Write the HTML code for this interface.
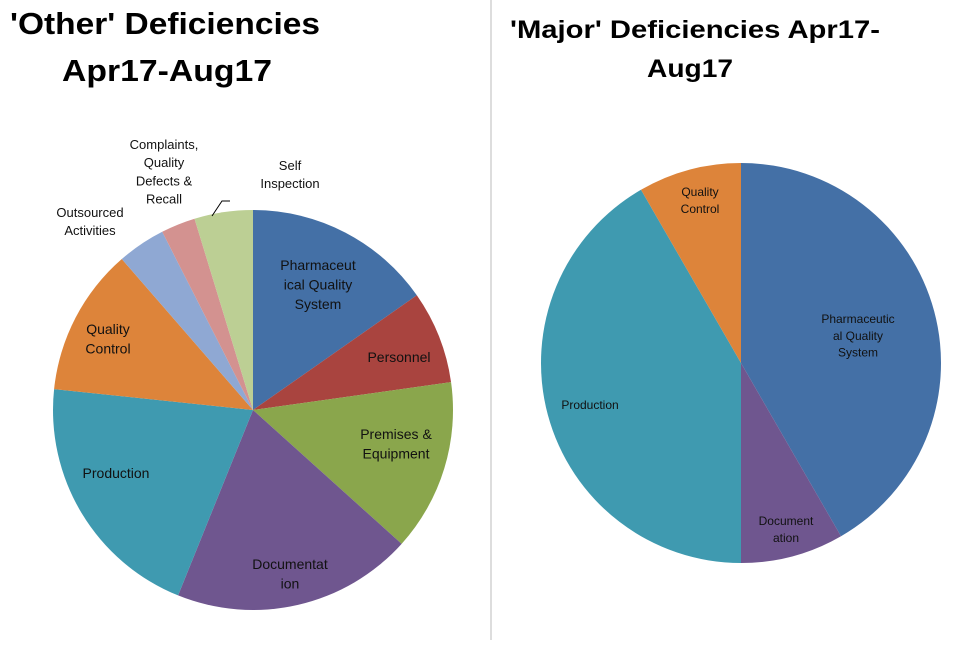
<!DOCTYPE html>
<html><head><meta charset="utf-8"><style>
body{margin:0;background:#fff;width:960px;height:640px;overflow:hidden;font-family:"Liberation Sans",sans-serif}
</style></head><body>
<svg width="960" height="640" xmlns="http://www.w3.org/2000/svg">
<line x1="491" y1="0" x2="491" y2="640" stroke="#bbb" stroke-width="1"/>
<text x="10" y="34" font-size="31" font-weight="bold" fill="#000" textLength="310" lengthAdjust="spacingAndGlyphs">'Other' Deficiencies</text>
<text x="62" y="81" font-size="31" font-weight="bold" fill="#000" textLength="210" lengthAdjust="spacingAndGlyphs">Apr17-Aug17</text>
<text x="510" y="38" font-size="25" font-weight="bold" fill="#000" textLength="370" lengthAdjust="spacingAndGlyphs">'Major' Deficiencies Apr17-</text>
<text x="647" y="77" font-size="25" font-weight="bold" fill="#000" textLength="86" lengthAdjust="spacingAndGlyphs">Aug17</text>
<g id="left"></g><g id="right"></g>
<polyline points="212,216 222,201 230,201" fill="none" stroke="#000" stroke-width="1"/>
</svg>
<script>
const leftCategories=["Pharmaceutical Quality System","Personnel","Premises & Equipment","Documentation","Production","Quality Control","Outsourced Activities","Complaints, Quality Defects & Recall","Self Inspection"];
const leftValues=[55,27,50,70,74,43,14,10,17];
const rightCategories=["Pharmaceutical Quality System","Documentation","Production","Quality Control"];
const rightValues=[5,1,5,1];
const leftColors=["#4470A6","#A9443F","#8AA64C","#6F568F","#3F9AB0","#DD843A","#8FA8D3","#D39290","#BCCF94"];
const rightColors=["#4470A6","#6F568F","#3F9AB0","#DD843A"];
const leftLabels=[
 {l:["Pharmaceut","ical Quality","System"],x:318,y:270,s:14},
 {l:["Personnel"],x:399,y:362,s:14},
 {l:["Premises &","Equipment"],x:396,y:439,s:14},
 {l:["Documentat","ion"],x:290,y:569,s:14},
 {l:["Production"],x:116,y:478,s:14},
 {l:["Quality","Control"],x:108,y:334,s:14},
 {l:["Outsourced","Activities"],x:90,y:217,s:13},
 {l:["Complaints,","Quality","Defects &","Recall"],x:164,y:149,s:13},
 {l:["Self","Inspection"],x:290,y:170,s:13}];
const rightLabels=[
 {l:["Pharmaceutic","al Quality","System"],x:858,y:323,s:12},
 {l:["Document","ation"],x:786,y:525,s:12},
 {l:["Production"],x:590,y:409,s:12},
 {l:["Quality","Control"],x:700,y:196,s:12}];
const NS="http://www.w3.org/2000/svg";
function drawPie(gid,vals,cols,cats,labels,cx,cy,r,prefix){
 const g=document.getElementById(gid);
 const tot=vals.reduce((a,b)=>a+b,0);let a0=0;
 vals.forEach((v,i)=>{
  const a1=a0+v/tot*2*Math.PI;
  const x0=cx+r*Math.sin(a0),y0=cy-r*Math.cos(a0),x1=cx+r*Math.sin(a1),y1=cy-r*Math.cos(a1);
  const p=document.createElementNS(NS,"path");
  p.setAttribute("d",`M${cx},${cy}L${x0},${y0}A${r},${r} 0 ${a1-a0>Math.PI?1:0} 1 ${x1},${y1}Z`);
  p.setAttribute("fill",cols[i]);
  
  
  g.appendChild(p);a0=a1;
 });
 labels.forEach((lb,i)=>{
  const t=document.createElementNS(NS,"text");
  t.setAttribute("x",lb.x);t.setAttribute("y",lb.y);t.setAttribute("font-size",lb.s);
  t.setAttribute("text-anchor","middle");t.setAttribute("fill","#111");
  
  
  lb.l.forEach((s,j)=>{const ts=document.createElementNS(NS,"tspan");ts.setAttribute("x",lb.x);ts.setAttribute("dy",j?lb.s*1.4:0);ts.textContent=s;t.appendChild(ts);});
  g.appendChild(t);
 });
}
drawPie("left",leftValues,leftColors,leftCategories,leftLabels,253,410,200,"other");
drawPie("right",rightValues,rightColors,rightCategories,rightLabels,741,363,200,"major");
</script>
</body></html>
